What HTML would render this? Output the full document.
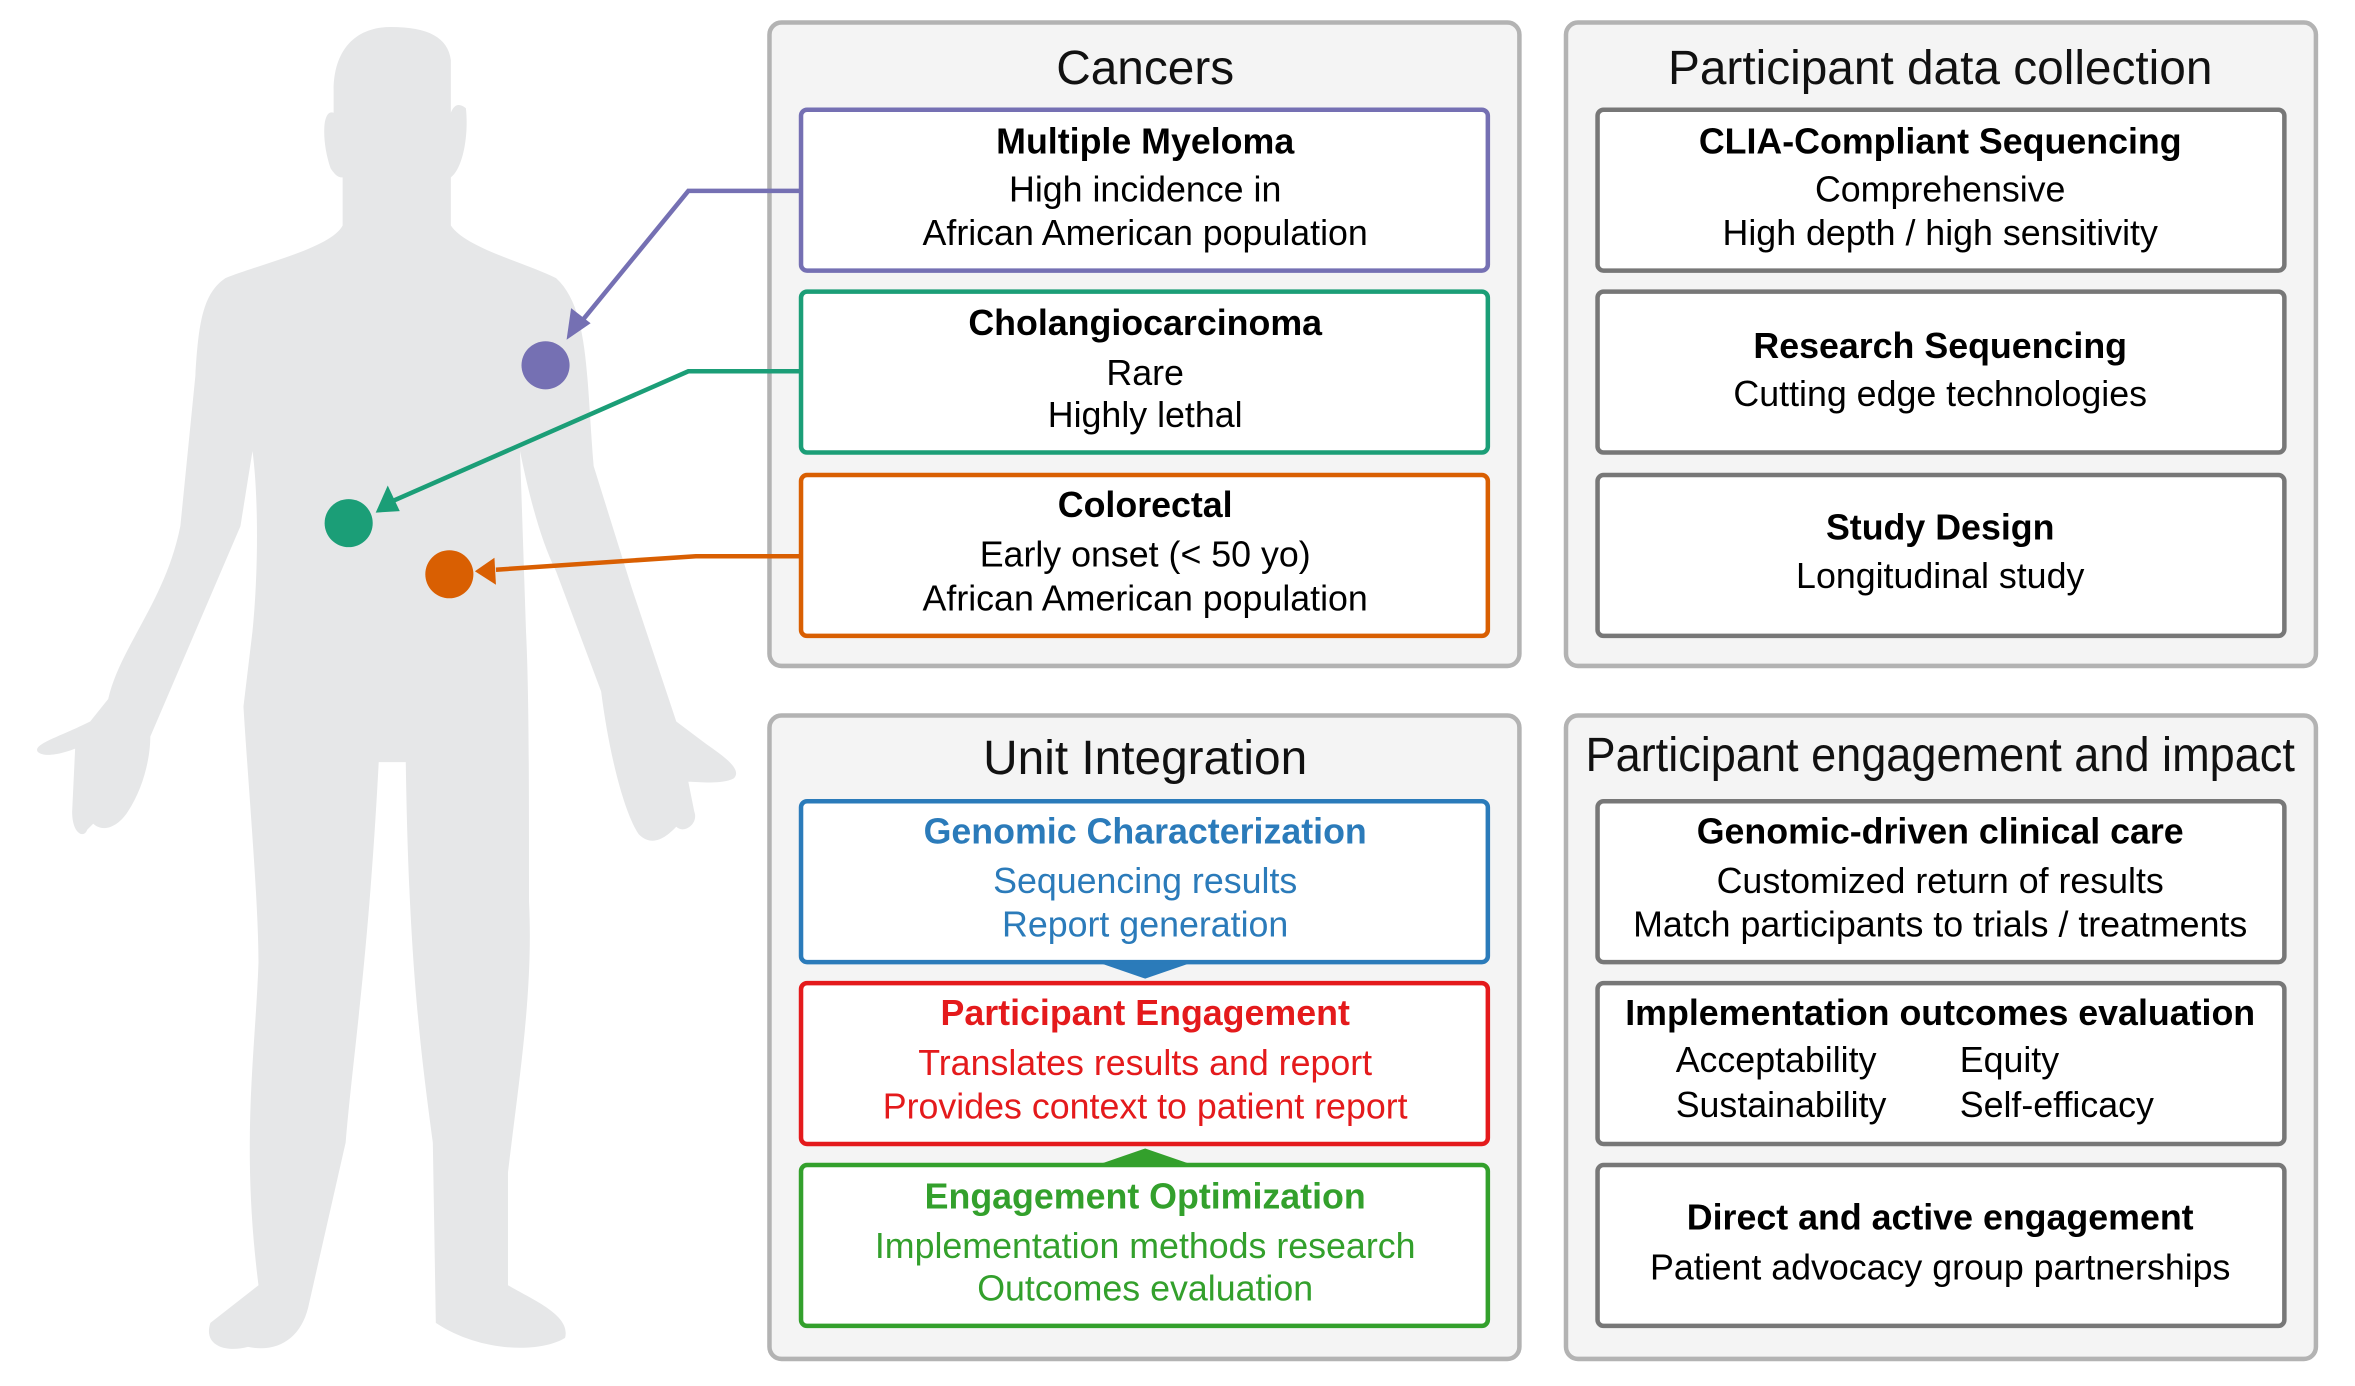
<!DOCTYPE html>
<html><head><meta charset="utf-8"><style>
html,body{margin:0;padding:0;background:#fff;}
svg{display:block;}
text{font-family:"Liberation Sans",Arial,sans-serif;}
.t{font-size:31.8px;fill:#111;text-anchor:middle;}
.h{font-size:23.8px;font-weight:bold;text-anchor:middle;}
.b{font-size:23.8px;text-anchor:middle;}
.l{font-size:23.8px;}
</style></head><body>
<svg width="2355" height="1386" viewBox="0 0 1567 922" preserveAspectRatio="none" xmlns="http://www.w3.org/2000/svg">
<path fill="#e6e7e8" d="M260,18 C235,18 222,35 222,60 L222,75 C214,72 214,95 220,112 C224,118 226,118 228,118 L228,150 C220,165 175,175 150,185 C135,195 132,215 130,250 L120,350 C110,400 80,430 72,465 L60,480 C40,490 22,495 25,500 C30,505 45,500 50,498 L48,540 C48,555 56,558 58,552 L62,548 C70,555 80,548 85,540 C95,525 100,505 100,490 L160,350 L168,300 C172,330 172,380 168,420 L162,470 C165,520 172,600 172,640 C170,700 160,760 172,855 L140,880 C135,895 150,900 165,896 C185,900 200,890 205,870 L230,760 C235,700 245,640 252,507 L270,507 C272,640 280,700 288,760 L290,880 C320,900 360,900 376,890 C380,875 355,865 338,855 L338,780 C345,720 355,660 352,600 C352,520 352,460 350,420 L346,300 C352,330 360,360 370,380 L400,460 C405,500 415,540 425,555 C435,565 445,555 450,550 C455,555 465,548 462,540 L458,520 C465,520 480,522 488,518 C495,512 480,502 470,495 L450,480 C440,450 430,420 420,390 L395,310 C390,250 392,205 370,185 C350,175 310,165 300,150 L300,118 C308,112 312,90 310,72 C305,68 302,70 300,75 L300,40 C298,25 285,18 260,18 Z"/>
<g fill="#f4f4f4" stroke="#b3b3b3" stroke-width="3">
<rect x="512" y="15" width="499" height="428" rx="8"/>
<rect x="1042" y="15" width="499" height="428" rx="8"/>
<rect x="512" y="476" width="499" height="428" rx="8"/>
<rect x="1042" y="476" width="499" height="428" rx="8"/>
</g>
<text class="t" x="762" y="56">Cancers</text>
<text class="t" x="1291" y="56">Participant data collection</text>
<text class="t" x="762" y="515">Unit Integration</text>
<text class="t" x="1291" y="513" textLength="472" lengthAdjust="spacingAndGlyphs">Participant engagement and impact</text>
<g fill="#fff" stroke-width="3">
<rect x="533" y="73" width="457" height="107" rx="4" stroke="#7570b3"/>
<rect x="533" y="194" width="457" height="107" rx="4" stroke="#1b9e77"/>
<rect x="533" y="316" width="457" height="107" rx="4" stroke="#d95f02"/>
<rect x="1063" y="73" width="457" height="107" rx="4" stroke="#777"/>
<rect x="1063" y="194" width="457" height="107" rx="4" stroke="#777"/>
<rect x="1063" y="316" width="457" height="107" rx="4" stroke="#777"/>
<rect x="533" y="533" width="457" height="107" rx="4" stroke="#2b7bba"/>
<rect x="533" y="654" width="457" height="107" rx="4" stroke="#e41a1c"/>
<rect x="533" y="775" width="457" height="107" rx="4" stroke="#33a02c"/>
<rect x="1063" y="533" width="457" height="107" rx="4" stroke="#777"/>
<rect x="1063" y="654" width="457" height="107" rx="4" stroke="#777"/>
<rect x="1063" y="775" width="457" height="107" rx="4" stroke="#777"/>
</g>
<polygon points="733,641 791,641 762,651" fill="#2b7bba"/>
<polygon points="733,774 791,774 762,764" fill="#33a02c"/>
<text class="h" x="762" y="102">Multiple Myeloma</text>
<text class="b" x="762" y="134">High incidence in</text>
<text class="b" x="762" y="163">African American population</text>
<text class="h" x="762" y="223">Cholangiocarcinoma</text>
<text class="b" x="762" y="256">Rare</text>
<text class="b" x="762" y="284">Highly lethal</text>
<text class="h" x="762" y="344">Colorectal</text>
<text class="b" x="762" y="377">Early onset (&lt; 50 yo)</text>
<text class="b" x="762" y="406">African American population</text>
<text class="h" x="1291" y="102">CLIA-Compliant Sequencing</text>
<text class="b" x="1291" y="134">Comprehensive</text>
<text class="b" x="1291" y="163">High depth / high sensitivity</text>
<text class="h" x="1291" y="238">Research Sequencing</text>
<text class="b" x="1291" y="270">Cutting edge technologies</text>
<text class="h" x="1291" y="359">Study Design</text>
<text class="b" x="1291" y="391">Longitudinal study</text>
<text class="h" x="762" y="561" fill="#2b7bba">Genomic Characterization</text>
<text class="b" x="762" y="594" fill="#2b7bba">Sequencing results</text>
<text class="b" x="762" y="623" fill="#2b7bba">Report generation</text>
<text class="h" x="762" y="682" fill="#e41a1c">Participant Engagement</text>
<text class="b" x="762" y="715" fill="#e41a1c">Translates results and report</text>
<text class="b" x="762" y="744" fill="#e41a1c">Provides context to patient report</text>
<text class="h" x="762" y="804" fill="#33a02c">Engagement Optimization</text>
<text class="b" x="762" y="837" fill="#33a02c">Implementation methods research</text>
<text class="b" x="762" y="865" fill="#33a02c">Outcomes evaluation</text>
<text class="h" x="1291" y="561">Genomic-driven clinical care</text>
<text class="b" x="1291" y="594">Customized return of results</text>
<text class="b" x="1291" y="623">Match participants to trials / treatments</text>
<text class="h" x="1291" y="682">Implementation outcomes evaluation</text>
<text class="l" x="1115" y="713">Acceptability</text>
<text class="l" x="1304" y="713">Equity</text>
<text class="l" x="1115" y="743">Sustainability</text>
<text class="l" x="1304" y="743">Self-efficacy</text>
<text class="h" x="1291" y="818">Direct and active engagement</text>
<text class="b" x="1291" y="851">Patient advocacy group partnerships</text>
<g fill="none" stroke-width="3">
<polyline points="533,127 458,127 386,215" stroke="#7570b3"/>
<polyline points="533,247 458,247 262,333" stroke="#1b9e77"/>
<polyline points="533,370 463,370 330,379" stroke="#d95f02"/>
</g>
<polygon points="377,226 380,205 393,215" fill="#7570b3"/>
<polygon points="250,341 258,323 266,340" fill="#1b9e77"/>
<polygon points="316,380 329,371 330,389" fill="#d95f02"/>
<circle cx="363" cy="243" r="16" fill="#7570b3"/>
<circle cx="232" cy="348" r="16" fill="#1b9e77"/>
<circle cx="299" cy="382" r="16" fill="#d95f02"/>
</svg>
</body></html>
